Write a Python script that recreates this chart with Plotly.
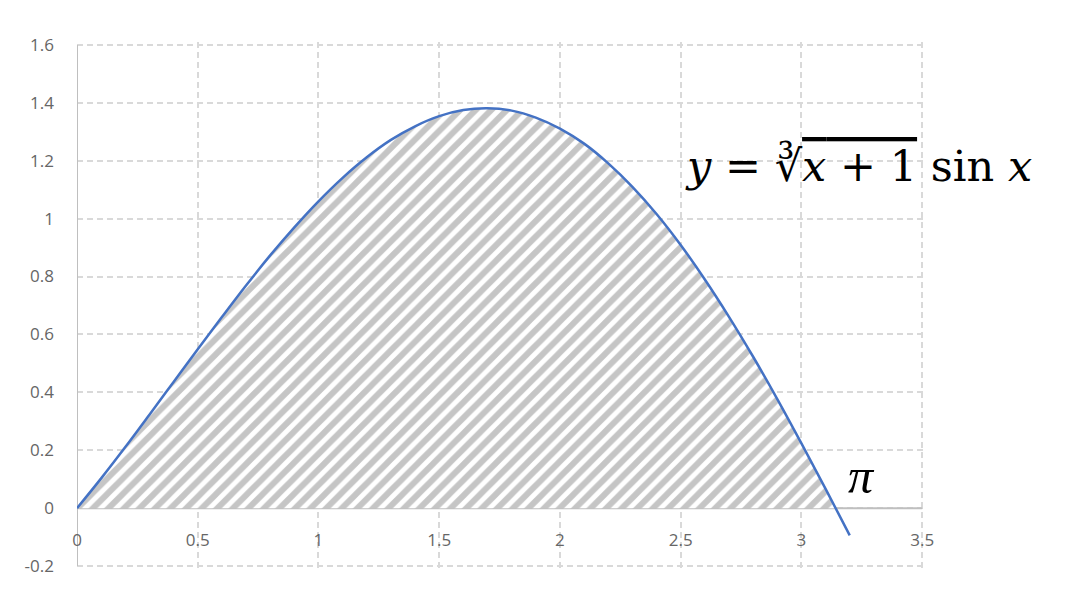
import plotly.graph_objects as go

# valeurs : y = racine cubique(x+1) * sin x
x_vals = [0.0, 0.1, 0.2, 0.3, 0.4, 0.5, 0.6, 0.7, 0.8, 0.9, 1.0, 1.1, 1.2, 1.3, 1.4, 1.5,
          1.6, 1.7, 1.8, 1.9, 2.0, 2.1, 2.2, 2.3, 2.4, 2.5, 2.6, 2.7, 2.8, 2.9, 3.0, 3.1, 3.2]
y_vals = [0.0, 0.103, 0.211, 0.323, 0.436, 0.549, 0.660, 0.769, 0.873, 0.970, 1.060, 1.141,
          1.212, 1.272, 1.319, 1.354, 1.375, 1.381, 1.373, 1.349, 1.311, 1.259, 1.191, 1.110,
          1.016, 0.909, 0.790, 0.661, 0.523, 0.377, 0.224, 0.067, -0.094]

# zone hachurée : de 0 à pi
fill_x = x_vals[:32] + [3.1416]
fill_y = y_vals[:32] + [0.0]

x_ticks = [0, 0.5, 1, 1.5, 2, 2.5, 3, 3.5]
x_ticklabels = ["0", "0.5", "1", "1.5", "2", "2.5", "3", "3.5"]
y_ticks = [-0.2, 0, 0.2, 0.4, 0.6, 0.8, 1, 1.2, 1.4, 1.6]
y_ticklabels = ["-0.2", "0", "0.2", "0.4", "0.6", "0.8", "1", "1.2", "1.4", "1.6"]

GRID = "#d9d9d9"
AXE = "#bfbfbf"
TXT = "#666666"

fig = go.Figure()
fig.add_trace(go.Scatter(
    x=fill_x, y=fill_y, mode="lines", fill="tozeroy",
    line=dict(width=0, color="rgba(0,0,0,0)", shape="spline"),
    fillcolor="white",
    fillpattern=dict(shape="/", fgcolor="#8c8c8c", bgcolor="white", size=11, solidity=0.55),
    hoverinfo="skip", showlegend=False,
))
fig.add_trace(go.Scatter(
    x=x_vals, y=y_vals, mode="lines",
    line=dict(color="#4472c4", width=2.5, shape="spline"), showlegend=False,
))

fig.add_annotation(
    x=3.235, y=1.185, xref="x", yref="y", showarrow=False,
    text=("<i>y</i> = ∛"
          "<span style='text-decoration:overline'><i>x</i> + 1</span> sin <i>x</i>"),
    font=dict(family="DejaVu Serif", size=43, color="black"),
)
fig.add_annotation(
    x=3.25, y=0.11, xref="x", yref="y", showarrow=False,
    text="<i>π</i>",
    font=dict(family="Liberation Serif", size=50, color="black"),
)

# position de l'axe x (y = 0) en fraction du papier
y0_pos = 0.21 / 1.82

# la page ajoute 8 px de marge autour du graphique ; plages un peu élargies
# pour que les lignes de grille des bords soient tracées
fig.update_layout(
    width=1070, height=602,
    margin=dict(l=69, r=151, t=34, b=41, autoexpand=False),
    paper_bgcolor="white", plot_bgcolor="white",
    font=dict(family="Open Sans", size=17, color=TXT),
    xaxis=dict(
        range=[0, 3.52], tickvals=x_ticks, ticktext=x_ticklabels,
        showgrid=True, gridcolor=GRID, griddash="6px,4px", gridwidth=1.5,
        zeroline=False, showline=False, ticks="",
        anchor="free", position=y0_pos, ticklabelstandoff=20,
    ),
    yaxis=dict(
        range=[-0.21, 1.61], tickvals=y_ticks, ticktext=y_ticklabels,
        showgrid=True, gridcolor=GRID, griddash="6px,4px", gridwidth=1.5,
        zeroline=False, showline=False, ticks="",
        ticklabelstandoff=22,
    ),
    shapes=[
        dict(type="line", xref="x", yref="y", x0=0, x1=0, y0=-0.2, y1=1.6,
             line=dict(color=AXE, width=2), layer="between"),
        dict(type="line", xref="x", yref="y", x0=0, x1=3.5, y0=0, y1=0,
             line=dict(color=AXE, width=2), layer="between"),
    ],
)

fig.write_html("out.html")
